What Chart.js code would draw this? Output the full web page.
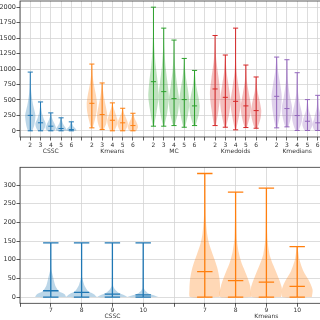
<!DOCTYPE html>
<html>
<head>
<meta charset="utf-8">
<script src="https://cdn.jsdelivr.net/npm/chart.js@4.4.0/dist/chart.umd.min.js"></script>
<style>
  html, body { margin: 0; padding: 0; background: #fff; overflow: hidden; width: 320px; height: 320px; }
  canvas { position: absolute; left: 0; }
  #top-chart { top: 0; }
  #bottom-chart { top: 160px; }
</style>
</head>
<body>
<canvas id="top-chart" width="330" height="165"></canvas>
<canvas id="bottom-chart" width="330" height="160"></canvas>
<script>
const COLORS = ['#1f77b4', '#ff7f0e', '#2ca02c', '#d62728', '#9467bd'];

// ---- top panel: k = 2..6 for each method
const topGroups = ['CSSC', 'Kmeans', 'MC', 'Kmedoids', 'Kmedians'];
const topK = [2, 3, 4, 5, 6];
const topYTicks = [0, 250, 500, 750, 1000, 1250, 1500, 1750, 2000];
const topMedians = [
  [250, 130, 75, 37, 20],
  [445, 263, 171, 129, 85],
  [795, 634, 521, 505, 403],
  [677, 542, 477, 403, 327],
  [558, 360, 247, 155, 129],
];
// violin outline: [value, relative width], from min to max
const topShapes = [
  [
    [[0, 0.4], [100, 0.8], [250, 1], [400, 0.6], [550, 0.3], [700, 0.12], [950, 0.02]],
    [[0, 0.5], [60, 0.9], [120, 1], [200, 0.6], [300, 0.25], [400, 0.08], [467, 0.02]],
    [[0, 0.7], [50, 1], [100, 0.8], [170, 0.4], [230, 0.15], [290, 0.03]],
    [[0, 0.9], [30, 1], [80, 0.6], [130, 0.3], [210, 0.03]],
    [[0, 1], [30, 0.9], [70, 0.4], [145, 0.03]],
  ],
  [
    [[48, 0.15], [150, 0.5], [300, 0.9], [450, 1], [600, 0.75], [750, 0.4], [900, 0.15], [1080, 0.02]],
    [[20, 0.3], [120, 0.8], [250, 1], [400, 0.7], [550, 0.35], [700, 0.1], [774, 0.02]],
    [[0, 0.4], [100, 0.9], [170, 1], [280, 0.6], [380, 0.2], [452, 0.02]],
    [[0, 0.5], [80, 0.95], [130, 1], [220, 0.6], [300, 0.2], [365, 0.02]],
    [[0, 0.7], [60, 1], [120, 0.8], [200, 0.35], [284, 0.02]],
  ],
  [
    [[75, 0.1], [300, 0.6], [550, 1], [800, 0.8], [1050, 0.45], [1300, 0.2], [1600, 0.06], [2000, 0.01]],
    [[75, 0.1], [300, 0.7], [550, 1], [800, 0.7], [1050, 0.35], [1350, 0.1], [1661, 0.01]],
    [[85, 0.15], [300, 0.8], [500, 1], [750, 0.6], [1000, 0.25], [1250, 0.07], [1468, 0.01]],
    [[58, 0.15], [250, 0.7], [450, 1], [650, 0.75], [850, 0.35], [1050, 0.1], [1171, 0.02]],
    [[85, 0.2], [250, 0.8], [400, 1], [550, 0.75], [750, 0.3], [977, 0.02]],
  ],
  [
    [[85, 0.15], [350, 0.7], [600, 1], [850, 0.7], [1100, 0.3], [1300, 0.1], [1542, 0.01]],
    [[58, 0.15], [300, 0.8], [500, 1], [750, 0.6], [950, 0.25], [1226, 0.02]],
    [[16, 0.1], [250, 0.7], [450, 1], [700, 0.6], [950, 0.2], [1250, 0.05], [1661, 0.01]],
    [[53, 0.2], [250, 0.85], [400, 1], [600, 0.6], [800, 0.2], [1064, 0.02]],
    [[42, 0.25], [200, 0.85], [330, 1], [480, 0.7], [650, 0.25], [871, 0.02]],
  ],
  [
    [[48, 0.15], [300, 0.75], [550, 1], [750, 0.7], [950, 0.3], [1193, 0.03]],
    [[64, 0.3], [250, 0.9], [380, 1], [550, 0.6], [800, 0.2], [1150, 0.02]],
    [[5, 0.3], [150, 0.9], [250, 1], [400, 0.6], [600, 0.2], [940, 0.02]],
    [[5, 0.5], [100, 1], [200, 0.8], [330, 0.3], [505, 0.02]],
    [[5, 0.6], [100, 1], [200, 0.7], [380, 0.2], [574, 0.02]],
  ],
];

// ---- bottom panel: k = 7..10
const bottomGroups = ['CSSC', 'Kmeans'];
const bottomK = [7, 8, 9, 10];
const bottomYTicks = [0, 50, 100, 150, 200, 250, 300];
const bottomMedians = [
  [17, 12.6, 8, 6],
  [68, 44, 40, 29],
];
const bottomShapes = [
  [
    [[0, 1], [8, 0.9], [15, 0.55], [30, 0.3], [50, 0.17], [65, 0.08], [75, 0.03], [145, 0.01]],
    [[0, 1], [8, 0.8], [15, 0.45], [30, 0.2], [45, 0.08], [58, 0.02], [145, 0.01]],
    [[0, 1], [6, 0.75], [12, 0.4], [22, 0.15], [32, 0.04], [145, 0.01]],
    [[0, 1], [5, 0.7], [10, 0.35], [18, 0.12], [25, 0.04], [145, 0.01]],
  ],
  [
    [[0, 0.95], [20, 1], [50, 0.95], [80, 0.8], [110, 0.55], [140, 0.3], [170, 0.15], [220, 0.05], [331, 0.01]],
    [[0, 1], [30, 0.95], [60, 0.7], [90, 0.4], [120, 0.2], [160, 0.07], [281, 0.01]],
    [[0, 0.95], [25, 1], [55, 0.75], [85, 0.45], [115, 0.2], [160, 0.06], [292, 0.01]],
    [[0, 0.95], [20, 1], [45, 0.75], [70, 0.4], [100, 0.15], [135, 0.02]],
  ],
];

Chart.defaults.font.family = 'DejaVu Sans';
Chart.defaults.color = '#333';

function hexAlpha(hex, a) {
  const n = parseInt(hex.slice(1), 16);
  return `rgba(${n >> 16}, ${(n >> 8) & 255}, ${n & 255}, ${a})`;
}

function violinDatasets(shapes, medians, slot, lineWidth) {
  const out = [];
  shapes.forEach((group, g) => {
    const color = COLORS[g];
    group.forEach((shape, i) => {
      const x = g * slot + i;
      const right = shape.map(([v, w]) => ({ x: x + w * 0.5, y: v }));
      const left = shape.slice().reverse().map(([v, w]) => ({ x: x - w * 0.5, y: v }));
      out.push({
        data: right.concat(left, [right[0]]),
        showLine: true,
        fill: 'shape',
        backgroundColor: hexAlpha(color, 0.3),
        borderWidth: 0,
        pointRadius: 0,
        tension: 0.25,
        order: 1,
      });
      const lo = shape[0][0];
      const hi = shape[shape.length - 1][0];
      const med = medians[g][i];
      out.push({
        data: [
          { x, y: lo }, { x, y: hi }, { x, y: null },
          { x: x - 0.25, y: lo }, { x: x + 0.25, y: lo }, { x, y: null },
          { x: x - 0.25, y: hi }, { x: x + 0.25, y: hi }, { x, y: null },
          { x: x - 0.25, y: med }, { x: x + 0.25, y: med },
        ],
        showLine: true,
        borderColor: color,
        borderWidth: lineWidth,
        pointRadius: 0,
        order: 0,
      });
    });
  });
  return out;
}

const framePlugin = {
  id: 'frame',
  afterDraw(chart) {
    const { ctx, chartArea: a } = chart;
    ctx.save();
    ctx.strokeStyle = '#333';
    ctx.lineWidth = 0.8;
    ctx.strokeRect(a.left, a.top, a.right - a.left, a.bottom - a.top);
    ctx.restore();
  },
};

function makeChart(id, cfg) {
  const xTicks = [];
  for (let v = -1; v <= cfg.xMax; v++) xTicks.push(v);
  return new Chart(document.getElementById(id), {
    type: 'scatter',
    data: { datasets: violinDatasets(cfg.shapes, cfg.medians, cfg.slot, cfg.lineWidth) },
    options: {
      responsive: false,
      animation: false,
      events: [],
      layout: { padding: { top: cfg.padTop, right: 2, left: 0, bottom: 0 } },
      plugins: { legend: { display: false }, tooltip: { enabled: false } },
      scales: {
        x: {
          type: 'linear',
          min: -1,
          max: cfg.xMax,
          afterBuildTicks(s) { s.ticks = xTicks.map(v => ({ value: v })); },
          afterFit(s) { s.height = cfg.xHeight; s.paddingLeft = 0; s.paddingRight = 0; },
          ticks: {
            autoSkip: false,
            maxRotation: 0,
            padding: cfg.xPad,
            font: { size: 6, lineHeight: cfg.lineHeight },
            callback(v) {
              if (v < 0) return '';
              const g = Math.floor(v / cfg.slot);
              const i = v - g * cfg.slot;
              if (i >= cfg.kLabels.length || g >= cfg.groups.length) return '';
              const k = String(cfg.kLabels[i]);
              return i === cfg.midIndex ? [k, cfg.groups[g]] : k;
            },
          },
          grid: { color: '#d4d4d4', lineWidth: 0.8, tickLength: 3.5, tickColor: '#333', tickWidth: 0.8 },
          border: { display: false },
        },
        y: {
          type: 'linear',
          min: cfg.yMin,
          max: cfg.yMax,
          afterBuildTicks(s) { s.ticks = cfg.yTicks.map(v => ({ value: v })); },
          afterFit(s) { s.width = 20; s.paddingTop = 0; s.paddingBottom = 0; },
          ticks: { padding: 0.5, font: { size: 6.5 }, callback: (v) => String(v) },
          grid: { color: '#d4d4d4', lineWidth: 0.8, tickLength: 3.5, tickColor: '#333', tickWidth: 0.8 },
          border: { display: false },
        },
      },
    },
    plugins: [framePlugin],
  });
}

makeChart('top-chart', {
  shapes: topShapes, medians: topMedians, slot: 6, lineWidth: 1,
  groups: topGroups, kLabels: topK, midIndex: 2, yTicks: topYTicks,
  xMax: 29, yMin: -100, yMax: 2100,
  padTop: 1, xHeight: 28, xPad: 1.5, lineHeight: 1.0,
});

makeChart('bottom-chart', {
  shapes: bottomShapes, medians: bottomMedians, slot: 5, lineWidth: 1.3,
  groups: bottomGroups, kLabels: bottomK, midIndex: 2, yTicks: bottomYTicks,
  xMax: 9, yMin: -16.55, yMax: 347.6,
  padTop: 7.3, xHeight: 16.7, xPad: 0, lineHeight: 1.1,
});
</script>
</body>
</html>
